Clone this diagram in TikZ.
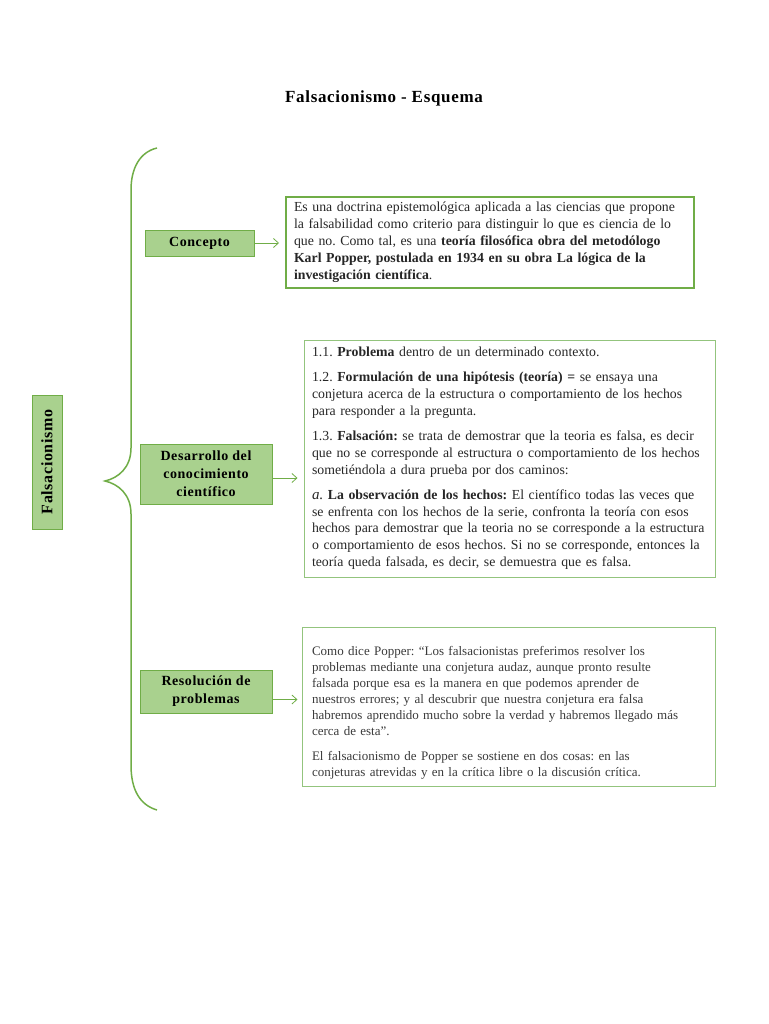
\documentclass[tikz,border=0pt]{standalone}
\usepackage{fontspec}
\setmainfont{Liberation Serif}
\newfontfamily\lblfont[LetterSpace=4]{Liberation Serif}
\usetikzlibrary{arrows.meta}
\definecolor{gfill}{HTML}{A9D18E}
\definecolor{gdark}{HTML}{70AD47}
\definecolor{glight}{HTML}{93C47D}
\definecolor{txt}{HTML}{262626}
\definecolor{txtb}{HTML}{3A3A3A}
\tikzset{
  lbl/.style={draw=gdark, fill=gfill, line width=0.8pt, font=\lblfont\bfseries\fontsize{14}{18}\selectfont, align=center, inner sep=0pt, text=black},
  txtbox/.style={draw=glight, line width=1pt, align=left, inner sep=0pt, text=txt, font=\frenchspacing\fontsize{13.8}{16.9}\selectfont},
  plaintext/.style={align=left, inner sep=0pt, text=txtb, font=\frenchspacing\fontsize{13}{16}\selectfont},
  conn/.style={draw=gdark, line width=0.8pt, -{Straight Barb[length=5pt,width=9pt]}},
  bracestyle/.style={draw=gdark, line width=1.5pt}
}
\begin{document}
\begin{tikzpicture}[x=1pt,y=-1pt]
\useasboundingbox (0,0) rectangle (768,1024);

\node[font=\lblfont\bfseries\fontsize{17}{20}\selectfont] (title) at (384,98) {Falsacionismo - Esquema};

\draw[bracestyle] (157,148) .. controls (140,152) and (131,168) .. (131,190) -- (131,448) .. controls (131,468) and (118,478) .. (105,481) .. controls (118,484) and (131,494) .. (131,514) -- (131,765) .. controls (131,790) and (140,805) .. (157,810);

\node[lbl, rotate=90, minimum width=134pt, minimum height=30pt, font=\lblfont\bfseries\fontsize{16}{18}\selectfont] (root) at (47,462) {Falsacionismo};

\node[lbl, minimum width=109pt, minimum height=26pt] (concepto) at (199.5,243) {Concepto};
\node[lbl, minimum width=132pt, minimum height=60pt] (desarrollo) at (206,474) {Desarrollo del\\conocimiento\\científico};
\node[lbl, minimum width=132pt, minimum height=43pt] (resolucion) at (206,691.5) {Resolución de\\problemas};

\node[txtbox, draw=gdark, line width=2pt, minimum width=408pt, minimum height=91pt, text width=392pt] (box1) at (490,242.5) {Es una doctrina epistemológica aplicada a las ciencias que propone\\
la falsabilidad como criterio para distinguir lo que es ciencia de lo\\
que no. Como tal, es una \textbf{teoría filosófica obra del metodólogo}\\
\textbf{Karl Popper, postulada en 1934 en su obra La lógica de la}\\
\textbf{investigación científica}.};

\node[txtbox, minimum width=411pt, minimum height=237pt, text width=395pt] (box2) at (509.5,458.5) {1.1. \textbf{Problema} dentro de un determinado contexto.\\[8pt]
1.2. \textbf{Formulación de una hipótesis (teoría) =} se ensaya una\\
conjetura acerca de la estructura o comportamiento de los hechos\\
para responder a la pregunta.\\[8pt]
1.3. \textbf{Falsación:} se trata de demostrar que la teoria es falsa, es decir\\
que no se corresponde al estructura o comportamiento de los hechos\\
sometiéndola a dura prueba por dos caminos:\\[8pt]
{\fontsize{15}{16.8}\selectfont\itshape a.} \textbf{La observación de los hechos:} El científico todas las veces que\\
se enfrenta con los hechos de la serie, confronta la teoría con esos\\
hechos para demostrar que la teoria no se corresponde a la estructura\\
o comportamiento de esos hechos. Si no se corresponde, entonces la\\
teoría queda falsada, es decir, se demuestra que es falsa.};

\node[txtbox, minimum width=413pt, minimum height=159pt] (box3) at (508.5,706.5) {};
\node[plaintext, text width=393pt] (box3text) at (508.5,713) {Como dice Popper: “Los falsacionistas preferimos resolver los\\
problemas mediante una conjetura audaz, aunque pronto resulte\\
falsada porque esa es la manera en que podemos aprender de\\
nuestros errores; y al descubrir que nuestra conjetura era falsa\\
habremos aprendido mucho sobre la verdad y habremos llegado más\\
cerca de esta”.\\[9pt]
El falsacionismo de Popper se sostiene en dos cosas: en las\\
conjeturas atrevidas y en la crítica libre o la discusión crítica.};

\draw[conn, shorten >=6pt] (concepto.east) -- (concepto.east -| box1.west);
\draw[conn, shorten >=6pt] ([yshift=-4pt]desarrollo.east) -- ([yshift=-4pt]desarrollo.east -| box2.west);
\draw[conn, shorten >=4pt] ([yshift=-8pt]resolucion.east) -- ([yshift=-8pt]resolucion.east -| box3.west);
\end{tikzpicture}
\end{document}
